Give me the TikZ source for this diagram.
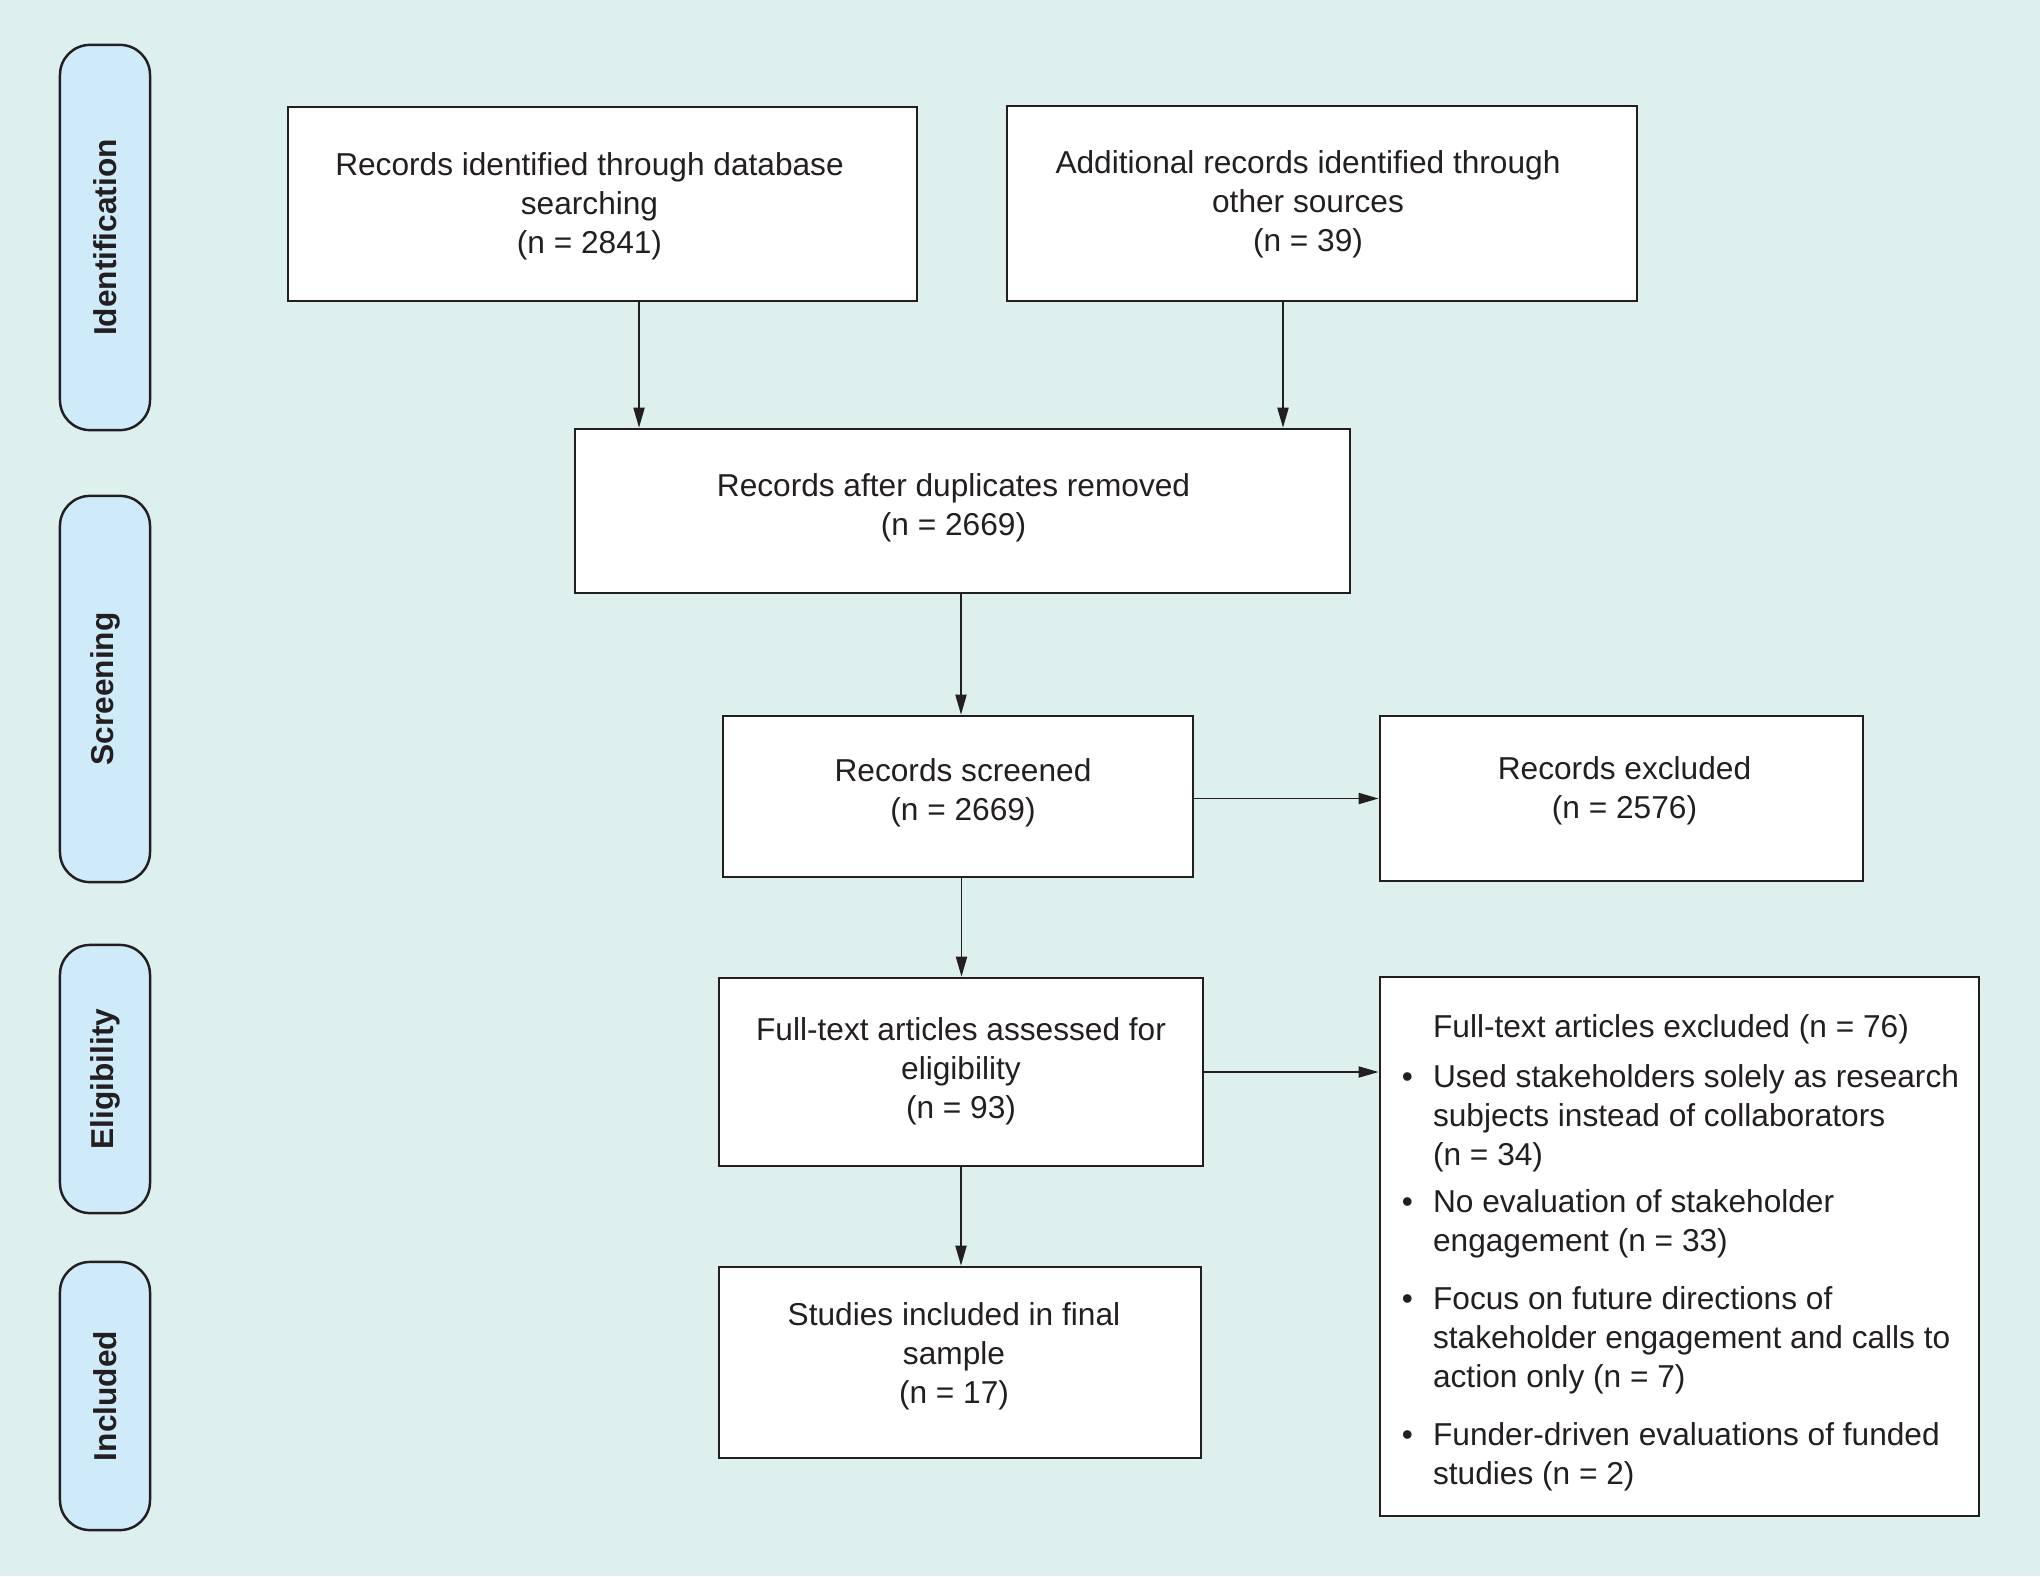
\documentclass[tikz,border=0pt]{standalone}
\usepackage{fontspec}
\setmainfont{Liberation Sans}
\usetikzlibrary{arrows.meta,calc}
\definecolor{bgc}{RGB}{222,240,238}
\definecolor{sidec}{RGB}{207,235,250}
\definecolor{ink}{RGB}{35,31,32}
\begin{document}
\begin{tikzpicture}[x=0.01cm,y=-0.01cm,
  every node/.style={font=\fontsize{9}{11.1}\selectfont, text=ink},
  box/.style={draw=ink, line width=0.7pt, fill=white, inner sep=0pt},
  lbl/.style={align=center, inner sep=0pt},
  side/.style={draw=ink, line width=0.7pt, fill=sidec, rounded corners=0.3cm,
    inner sep=0pt, rotate=90,
    font=\fontsize{9}{11.1}\selectfont\bfseries},
  arr/.style={draw=ink, line width=0.55pt, -{Triangle[length=0.2cm,width=0.11cm]}}]
\fill[bgc] (0,0) rectangle (2040,1576);
\useasboundingbox (0,0) rectangle (2040,1576);

% side labels
\node[side, minimum width=3.85cm, minimum height=0.9cm] (sid) at (105,237.5) {Identification};
\node[side, minimum width=3.86cm, minimum height=0.9cm] (sscr) at (105,689) {Screening};
\node[side, minimum width=2.68cm, minimum height=0.9cm] (self) at (105,1079) {Eligibility};
\node[side, minimum width=2.68cm, minimum height=0.9cm] (sinc) at (105,1396) {Included};

% boxes
\node[box, minimum width=6.29cm, minimum height=1.94cm] (b1) at (602.5,204) {};
\node[box, minimum width=6.30cm, minimum height=1.95cm] (b2) at (1322,203.5) {};
\node[box, minimum width=7.75cm, minimum height=1.64cm] (b3) at (962.5,511) {};
\node[box, minimum width=4.70cm, minimum height=1.61cm] (b4) at (958,796.5) {};
\node[box, minimum width=4.83cm, minimum height=1.65cm] (b5) at (1621.5,798.5) {};
\node[box, minimum width=4.84cm, minimum height=1.88cm] (b6) at (961,1072) {};
\node[box, minimum width=4.82cm, minimum height=1.91cm] (b7) at (960,1362.5) {};
\node[box, minimum width=5.99cm, minimum height=5.39cm] (b8) at (1679.5,1246.5) {};

% box texts
\node[lbl] (t1) at ([shift={(-0.13cm,-0.02cm)}]b1.center)
  {Records identified through database\\searching\\(n = 2841)};
\node[lbl] (t2) at ([shift={(-0.14cm,-0.01cm)}]b2.center)
  {Additional records identified through\\other sources\\(n = 39)};
\node[lbl] (t3) at ([shift={(-0.09cm,0.03cm)}]b3.center)
  {Records after duplicates removed\\(n = 2669)};
\node[lbl] (t4) at ([shift={(0.05cm,0.04cm)}]b4.center)
  {Records screened\\(n = 2669)};
\node[lbl] (t5) at ([shift={(0.03cm,0.08cm)}]b5.center)
  {Records excluded\\(n = 2576)};
\node[lbl] (t6) at ([shift={(0cm,0.01cm)}]b6.center)
  {Full-text articles assessed for\\eligibility\\(n = 93)};
\node[lbl] (t7) at ([shift={(-0.06cm,0.065cm)}]b7.center)
  {Studies included in final\\sample\\(n = 17)};
\node[lbl, align=left] (t8) at ([shift={(0.01cm,-0.065cm)}]b8.center)
  {\begin{tabular}{@{}l@{\hspace{0.2cm}}l@{}}
   & Full-text articles excluded (n = 76)\\[0.11cm]
   \textbullet & Used stakeholders solely as research\\
   & subjects instead of collaborators\\
   & (n = 34)\\[0.08cm]
   \textbullet & No evaluation of stakeholder\\
   & engagement (n = 33)\\[0.19cm]
   \textbullet & Focus on future directions of\\
   & stakeholder engagement and calls to\\
   & action only (n = 7)\\[0.19cm]
   \textbullet & Funder-driven evaluations of funded\\
   & studies (n = 2)
   \end{tabular}};

% connectors
\draw[arr] ([xshift=0.365cm]b1.south) -- ([xshift=0.365cm]b1.south |- b3.north);
\draw[arr] ([xshift=-0.39cm]b2.south) -- ([xshift=-0.39cm]b2.south |- b3.north);
\draw[arr] ([xshift=-0.015cm]b3.south) -- ([xshift=-0.015cm]b3.south |- b4.north);
\draw[arr] ([xshift=0.035cm]b4.south) -- ([xshift=0.035cm]b4.south |- b6.north);
\draw[arr] (b6.south) -- (b6.south |- b7.north);
\draw[arr] ([yshift=-0.02cm]b4.east) -- ([yshift=-0.02cm]b4.east -| b5.west);
\draw[arr] (b6.east) -- (b6.east -| b8.west);
\end{tikzpicture}
\end{document}
